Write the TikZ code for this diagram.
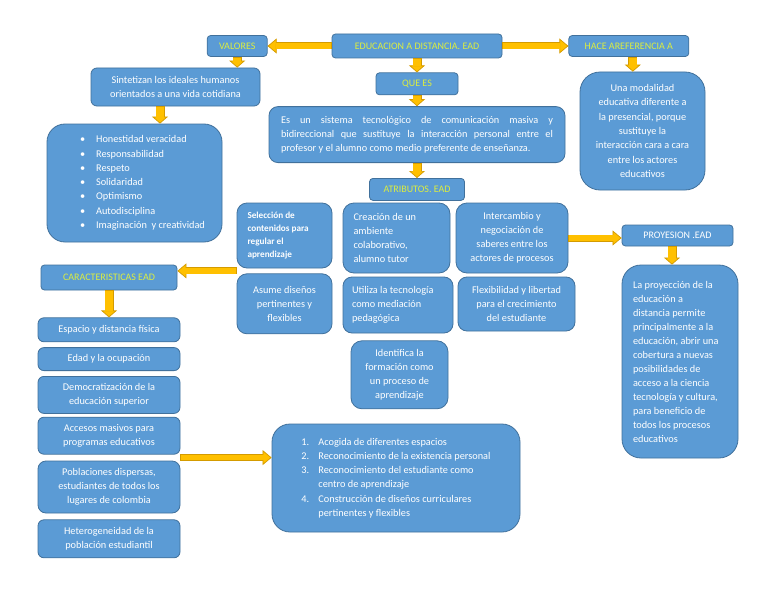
\documentclass[tikz,border=0pt]{standalone}
\usepackage{fontspec}
\setmainfont{Carlito}
\usetikzlibrary{arrows.meta,positioning,calc}
\definecolor{cajafondo}{HTML}{5B9BD5}
\definecolor{cajaborde}{HTML}{41719C}
\definecolor{amarillo}{HTML}{DDEE3E}
\definecolor{flechafondo}{HTML}{FFC000}
\definecolor{flechaborde}{HTML}{D49B00}
\newcommand{\vineta}[1]{\hspace*{16pt}\makebox[16pt][l]{\textbullet}#1}
\newcommand{\numero}[2]{\makebox[17pt][l]{#1.}#2}
\newcommand{\sigue}[1]{\hspace*{17pt}#1}

\begin{document}
\begin{tikzpicture}[x=1pt, y=-1pt,
  caja/.style={rectangle, rounded corners=6pt, draw=cajaborde, line width=0.8pt, fill=cajafondo, text=white, font=\fontsize{10.3}{14}\selectfont, align=center, inner sep=2pt},
  titulo/.style={caja, rounded corners=3.5pt, text=amarillo, font=\fontsize{10}{12}\selectfont},
  flecha/.style={draw=flechaborde, line width=7pt, -{Triangle[length=9pt, width=15pt, line width=0.7pt, fill=flechafondo]}, postaction={draw=flechafondo, line width=5.6pt, -, shorten >=8pt, shorten <=0.7pt}},
  baja/.style={draw=flechaborde, line width=9pt, -{Triangle[length=7pt, width=16pt, line width=0.7pt, fill=flechafondo]}, postaction={draw=flechafondo, line width=7.6pt, -, shorten >=6pt, shorten <=0.7pt}},
]
\fill[white] (0,0) rectangle (768,594);
\useasboundingbox (0,0) rectangle (768,594);

% Top row
\node[titulo, minimum width=170pt, minimum height=24pt] (edu) at (417,46) {EDUCACION A DISTANCIA. EAD};
\node[titulo, minimum width=60pt, minimum height=21pt, left=64pt of edu] (valores) {VALORES};
\node[titulo, minimum width=120pt, minimum height=21pt, right=66pt of edu] (hace) {HACE AREFERENCIA A};

% Middle column
\node[titulo, minimum width=82pt, minimum height=22pt, below=14pt of edu] (quees) {QUE ES};
\node[caja, rounded corners=9pt, minimum width=296pt, minimum height=56pt, text width=272pt, align=justify, below=11pt of quees] (sistema) {Es un sistema tecnológico de comunicación masiva y\linebreak bidireccional que sustituye la interacción personal entre el\linebreak profesor y el alumno como medio preferente de enseñanza.};
\node[titulo, minimum width=95pt, minimum height=22pt, below=15pt of sistema] (atrib) {ATRIBUTOS. EAD};

% Valores — left
\node[caja, minimum width=169pt, minimum height=38pt] (sintet) at (175.5,87) {Sintetizan los ideales humanos\\orientados a una vida cotidiana};
\node[caja, rounded corners=18pt, minimum width=175pt, minimum height=118pt, align=flush left, font=\fontsize{10.3}{14.3}\selectfont] (listaval) at (134.5,183) {
  \vineta{Honestidad veracidad}\\
  \vineta{Responsabilidad}\\
  \vineta{Respeto}\\
  \vineta{Solidaridad}\\
  \vineta{Optimismo}\\
  \vineta{Autodisciplina}\\
  \vineta{Imaginación\ \ y creatividad}};

% Hace referencia — right
\node[caja, rounded corners=20pt, minimum width=125pt, minimum height=118pt, font=\fontsize{10.3}{14.3}\selectfont] (modal) at (642.5,131) {Una modalidad\\educativa diferente a\\la presencial, porque\\sustituye la\\interacción cara a cara\\entre los actores\\educativos};

% Atributos
\node[caja, rounded corners=10pt, minimum width=95pt, minimum height=65pt, text width=74pt, align=flush left, font=\bfseries\fontsize{9.2}{13}\selectfont] (selec) at (284.5,235.5) {Selección de\\contenidos para\\regular el\\aprendizaje};
\node[caja, rounded corners=10pt, minimum width=95pt, minimum height=60pt, below=5pt of selec] (asume) {Asume diseños\\pertinentes y\\flexibles};
\node[caja, rounded corners=11pt, minimum width=107pt, minimum height=70pt, text width=86pt, align=flush left] (creacion) at (396.5,238) {Creación de un\\ambiente\\colaborativo,\\alumno tutor};
\node[caja, rounded corners=9pt, minimum width=110pt, minimum height=56pt, text width=92pt, align=flush left] (utiliza) at (398,305) {Utiliza la tecnología\\como mediación\\pedagógica};
\node[caja, rounded corners=11pt, minimum width=112pt, minimum height=70pt] (interc) at (512,238) {Intercambio y\\negociación de\\saberes entre los\\actores de procesos};
\node[caja, rounded corners=9pt, minimum width=117pt, minimum height=54pt] (flexib) at (516.5,304) {Flexibilidad y libertad\\para el crecimiento\\del estudiante};
\node[caja, rounded corners=11pt, minimum width=97pt, minimum height=68pt, below=7pt of utiliza, xshift=1.5pt] (identif) {Identifica la\\formación como\\un proceso de\\aprendizaje};

% Proyeccion — right
\node[titulo, minimum width=111pt, minimum height=21pt, text=white] (proyes) at (677.5,235.5) {PROYESION .EAD};
\node[caja, rounded corners=19pt, minimum width=116pt, minimum height=193pt, text width=94pt, align=flush left] (proyecc) at (680,361.5) {La proyección de la\\educación a\\distancia permite\\principalmente a la\\educación, abrir una\\cobertura a nuevas\\posibilidades de\\acceso a la ciencia\\tecnología y cultura,\\para beneficio de\\todos los procesos\\educativos};

% Caracteristicas — left column
\node[titulo, minimum width=136pt, minimum height=25pt] (caract) at (109,277.5) {CARACTERISTICAS EAD};
\node[caja, minimum width=142pt, minimum height=24pt, below=27pt of caract] (espacio) {Espacio y distancia física};
\node[caja, minimum width=142pt, minimum height=23pt, below=5pt of espacio] (edad) {Edad y la ocupación};
\node[caja, minimum width=142pt, minimum height=37pt, below=5pt of edad] (democ) {Democratización de la\\educación superior};
\node[caja, minimum width=142pt, minimum height=37pt, below=3pt of democ] (acceso) {Accesos masivos para\\programas educativos};
\node[caja, rounded corners=8pt, minimum width=142pt, minimum height=52pt, below=6pt of acceso] (pobla) {Poblaciones dispersas,\\estudiantes de todos los\\lugares de colombia};
\node[caja, minimum width=142pt, minimum height=38pt, below=6pt of pobla] (hetero) {Heterogeneidad de la\\población estudiantil};

% Numbered list
\node[caja, rounded corners=18pt, minimum width=248pt, minimum height=108pt, align=flush left, font=\fontsize{10.3}{14.3}\selectfont] (numlist) at (396,478) {
  \numero{1}{Acogida de diferentes espacios}\\
  \numero{2}{Reconocimiento de la existencia personal}\\
  \numero{3}{Reconocimiento del estudiante como}\\
  \sigue{centro de aprendizaje}\\
  \numero{4}{Construcción de diseños curriculares}\\
  \sigue{pertinentes y flexibles}};

% Horizontal arrows
\draw[flecha] (edu.west) -- (valores.east |- edu.west);
\draw[flecha] (edu.east) -- (hace.west |- edu.east);
\draw[flecha] (interc.east) -- (proyes.west |- interc.east);
\coordinate (entre) at ($(selec.south west)!.5!(asume.north west)$);
\draw[flecha] (entre) -- (caract.east |- entre);
\coordinate (entre2) at ($(acceso.south east)!.5!(pobla.north east)$);
\draw[flecha] (entre2) -- (numlist.west |- entre2);

% Down arrows
\draw[baja] (edu.south) -- (quees.north);
\draw[baja] (quees.south) -- (sistema.north);
\draw[baja] (sistema.south) -- (atrib.north);
\draw[baja] (valores.south) -- (valores.south |- sintet.north);
\draw[baja] ([xshift=-15.5pt]sintet.south) -- ([xshift=-15.5pt]sintet.south |- listaval.north);
\draw[baja] ([xshift=4pt]hace.south) -- ([xshift=4pt]hace.south |- modal.north);
\draw[baja] ([xshift=-5.5pt]proyes.south) -- ([xshift=-5.5pt]proyes.south |- proyecc.north);
\draw[baja] (caract.south) -- (espacio.north);

\end{tikzpicture}
\end{document}
